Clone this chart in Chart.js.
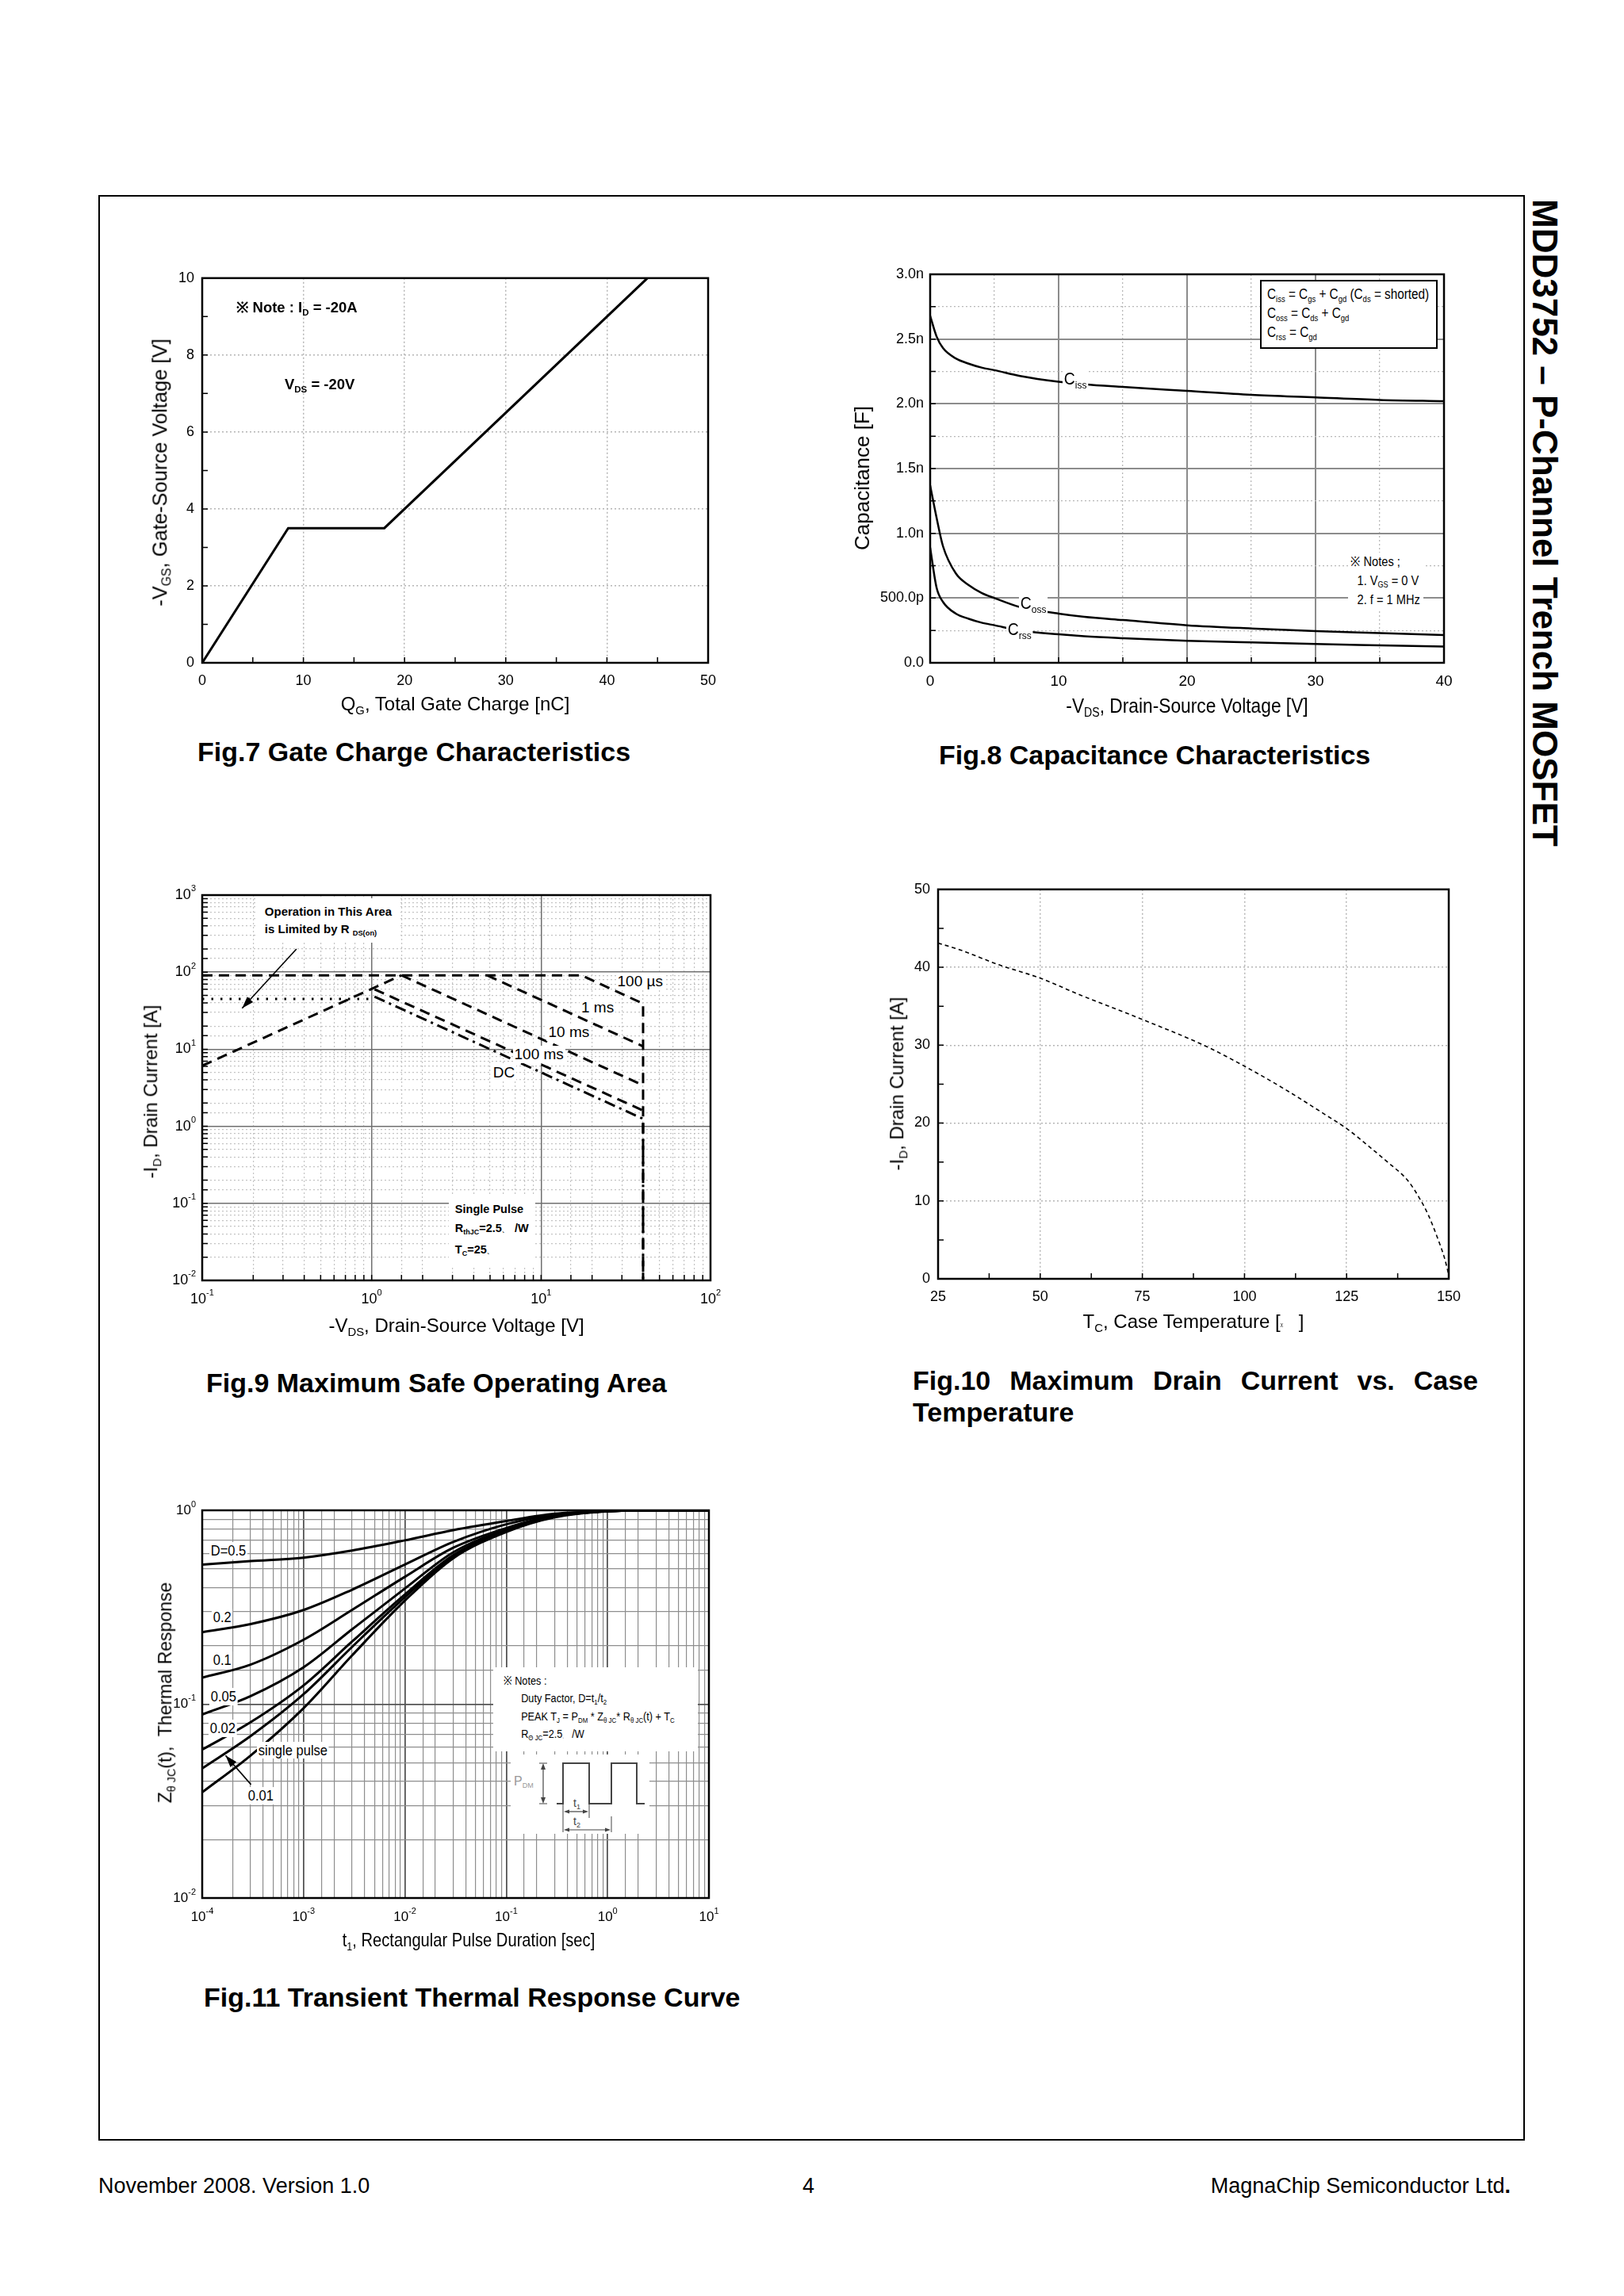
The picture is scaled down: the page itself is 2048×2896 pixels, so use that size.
<!DOCTYPE html>
<html><head><meta charset="utf-8"><title>MDD3752 P-Channel Trench MOSFET</title>
<script src="https://cdn.jsdelivr.net/npm/chart.js@4.4.1/dist/chart.umd.min.js"></script>
<style>
html,body{margin:0;padding:0;background:#fff;}
body{position:relative;width:2048px;height:2896px;overflow:hidden;font-family:'Liberation Sans',Arial,Helvetica,sans-serif;color:#000;}
.abs{position:absolute;white-space:nowrap;line-height:1.15;}
sub{font-size:0.62em;vertical-align:-0.32em;line-height:0;}
.ftitle{font-weight:bold;font-size:34px;}
.atitle{font-size:24px;}
.cond{display:inline-block;transform-origin:0 0;}
</style></head><body>
<div class="abs" style="left:124px;top:246px;width:1799px;height:2454px;border:2px solid #000;box-sizing:border-box;"></div>
<div class="abs" style="left:1926px;top:251px;writing-mode:vertical-rl;font-weight:bold;font-size:44px;line-height:44px;">MDD3752 – P-Channel Trench MOSFET</div>

<div class="abs ftitle" style="left:249px;top:949px;transform:translateY(-50%);">Fig.7 Gate Charge Characteristics</div>
<div class="abs ftitle" style="left:1184px;top:953px;transform:translateY(-50%);">Fig.8 Capacitance Characteristics</div>
<div class="abs ftitle" style="left:260px;top:1745px;transform:translateY(-50%);">Fig.9 Maximum Safe Operating Area</div>
<div class="abs ftitle" style="left:1151px;top:1721px;width:713px;white-space:normal;line-height:40px;">
  <div style="text-align:justify;text-align-last:justify;">Fig.10 Maximum Drain Current vs. Case</div>
  <div>Temperature</div>
</div>
<div class="abs ftitle" style="left:257px;top:2520px;transform:translateY(-50%);">Fig.11 Transient Thermal Response Curve</div>

<div class="abs" style="left:124px;top:2742px;font-size:27px;">November 2008. Version 1.0</div>
<div class="abs" style="left:1012px;top:2742px;font-size:27px;">4</div>
<div class="abs" style="right:143px;top:2742px;font-size:27px;">MagnaChip Semiconductor Ltd<b>.</b></div>

<script>
// ---------------- DATA ----------------
// Fig.7 Gate charge
const gateCharge = [0, 8.5, 18, 44];          // nC
const gateVoltage = [0, 3.5, 3.5, 10];        // V
// Fig.8 Capacitance (nF)
const capVds = [0, 0.5, 1, 2, 3, 4, 5, 7, 10, 12, 15, 20, 25, 30, 35, 40];
const capCiss = [2.68, 2.52, 2.43, 2.35, 2.31, 2.28, 2.26, 2.215, 2.17, 2.15, 2.13, 2.10, 2.07, 2.05, 2.03, 2.02];
const capCoss = [1.37, 1.12, 0.90, 0.69, 0.60, 0.54, 0.50, 0.43, 0.38, 0.355, 0.33, 0.29, 0.265, 0.245, 0.23, 0.215];
const capCrss = [0.89, 0.58, 0.47, 0.38, 0.34, 0.31, 0.29, 0.25, 0.22, 0.205, 0.19, 0.17, 0.157, 0.145, 0.135, 0.125];
const capTickLabels = ['0.0', '500.0p', '1.0n', '1.5n', '2.0n', '2.5n', '3.0n'];
// Fig.9 Safe operating area
const soaLimitV = [0.1, 17.3, 40, 40];   const soaLimitI = [91, 91, 39, 0.01];   // 100 us
const soa1msV = [4.8, 40];                const soa1msI = [91, 10.9];
const soa10msV = [1.5, 40];               const soa10msI = [91, 3.4];
const soa100msV = [1.04, 40];             const soa100msI = [60, 1.6];
const soaDcV = [1.04, 40, 40];            const soaDcI = [48, 1.25, 0.01];
const soaRdsV = [0.1, 1.5];               const soaRdsI = [6.1, 91];
const soaPkgV = [0.1, 1.0];               const soaPkgI = [45, 45];
// Fig.10 Max drain current vs case temperature
const caseTemp = [25, 30, 40, 50, 60, 75, 90, 100, 110, 120, 125, 130, 135, 140, 143, 145, 147, 149, 150];
const maxDrainI = [43.1, 42.3, 40.3, 38.6, 36.4, 33.3, 30.0, 27.3, 24.3, 21.0, 19.3, 17.2, 15.0, 12.6, 10.2, 8.2, 5.6, 2.6, 0.5];
// Fig.11 Transient thermal response
const pulseT = [1e-4, 3e-4, 1e-3, 3e-3, 1e-2, 3e-2, 1e-1, 3e-1, 1, 3, 10];
const zD50 = [0.525, 0.547, 0.57, 0.62, 0.70, 0.79, 0.88, 0.96, 0.99, 1.0, 1.0];
const zD20 = [0.235, 0.259, 0.306, 0.389, 0.525, 0.687, 0.847, 0.95, 0.99, 1.0, 1.0];
const zD10 = [0.137, 0.16, 0.215, 0.306, 0.454, 0.641, 0.81, 0.94, 0.99, 1.0, 1.0];
const zD05 = [0.0885, 0.110, 0.155, 0.243, 0.395, 0.607, 0.796, 0.93, 0.99, 1.0, 1.0];
const zD02 = [0.0583, 0.0807, 0.125, 0.210, 0.368, 0.587, 0.786, 0.93, 0.99, 1.0, 1.0];
const zD01 = [0.0466, 0.0684, 0.1125, 0.197, 0.356, 0.578, 0.779, 0.925, 0.99, 1.0, 1.0];
const zSingle = [0.0351, 0.0543, 0.0953, 0.178, 0.342, 0.566, 0.773, 0.92, 0.988, 1.0, 1.0];

// ---------------- LAYOUT ----------------
const FONT = "'Liberation Sans', Arial, sans-serif";
const G7  = {x:255,  y:350,  w:638, h:486, L:70, T:20, R:40, B:50};
const G8  = {x:1173, y:346,  w:648, h:490, L:90, T:20, R:40, B:50};
const G9  = {x:255,  y:1129, w:641, h:486, L:70, T:25, R:40, B:50};
const G10 = {x:1183, y:1121, w:644, h:492, L:60, T:20, R:40, B:50};
const G11 = {x:255,  y:1905, w:639, h:489, L:60, T:20, R:40, B:50};

const pts = (xs, ys) => xs.map((x, i) => ({x, y: ys[i]}));
const isDecade = v => Math.abs(Math.log10(v) - Math.round(Math.log10(v))) < 1e-6;

function powLabel(ctx, x, yc, e, align, fs, fam) {
  ctx.font = fs + 'px ' + fam; const wb = ctx.measureText('10').width;
  const es = Math.round(fs * 0.62);
  ctx.font = es + 'px ' + fam; const we = ctx.measureText(String(e)).width;
  const tot = wb + we; const x0 = align === 'right' ? x - tot : x - tot / 2;
  ctx.fillStyle = '#000'; ctx.textAlign = 'left'; ctx.textBaseline = 'middle';
  ctx.font = fs + 'px ' + fam; ctx.fillText('10', x0, yc);
  ctx.font = es + 'px ' + fam; ctx.fillText(String(e), x0 + wb, yc - fs * 0.42);
}

const framePlugin = {
  id: 'frame',
  afterDraw(chart, args, o) {
    const ctx = chart.ctx, a = chart.chartArea, sx = chart.scales.x, sy = chart.scales.y;
    ctx.save();
    ctx.strokeStyle = '#000';
    ctx.lineWidth = o.tickWidth || 1.5;
    const len = o.tickLen || 7;
    const xt = o.xTicks === 'scale' ? sx.ticks.map(t => t.value) : (o.xTicks || []);
    const yt = o.yTicks === 'scale' ? sy.ticks.map(t => t.value) : (o.yTicks || []);
    ctx.beginPath();
    xt.forEach(v => { const p = sx.getPixelForValue(v); ctx.moveTo(p, a.bottom); ctx.lineTo(p, a.bottom - len); });
    yt.forEach(v => { const p = sy.getPixelForValue(v); ctx.moveTo(a.left, p); ctx.lineTo(a.left + len, p); });
    ctx.stroke();
    (o.arrows || []).forEach(ar => {
      const x1 = sx.getPixelForValue(ar[0]), y1 = sy.getPixelForValue(ar[1]);
      const x2 = sx.getPixelForValue(ar[2]), y2 = sy.getPixelForValue(ar[3]);
      ctx.lineWidth = 1.6; ctx.beginPath(); ctx.moveTo(x1, y1); ctx.lineTo(x2, y2); ctx.stroke();
      const ang = Math.atan2(y2 - y1, x2 - x1), h = 15, w = 5;
      ctx.beginPath(); ctx.moveTo(x2, y2);
      ctx.lineTo(x2 - h * Math.cos(ang) + w * Math.sin(ang), y2 - h * Math.sin(ang) - w * Math.cos(ang));
      ctx.lineTo(x2 - h * Math.cos(ang) - w * Math.sin(ang), y2 - h * Math.sin(ang) + w * Math.cos(ang));
      ctx.closePath(); ctx.fillStyle = '#000'; ctx.fill();
    });
    const fs = o.logFont || 18, fam = o.family || FONT;
    if (o.logX) sx.ticks.forEach(t => { if (isDecade(t.value)) powLabel(ctx, sx.getPixelForValue(t.value), a.bottom + (o.xPad || 22), Math.round(Math.log10(t.value)), 'center', fs, fam); });
    if (o.logY) sy.ticks.forEach(t => { if (isDecade(t.value)) powLabel(ctx, a.left - (o.yPad || 8), sy.getPixelForValue(t.value), Math.round(Math.log10(t.value)), 'right', fs, fam); });
    ctx.lineWidth = o.width || 2.5;
    ctx.strokeRect(a.left, a.top, a.right - a.left, a.bottom - a.top);
    ctx.restore();
  }
};

function makeChart(g, cfg) {
  const cv = document.createElement('canvas');
  cv.width = g.w + g.L + g.R; cv.height = g.h + g.T + g.B;
  Object.assign(cv.style, {position: 'absolute', left: (g.x - g.L) + 'px', top: (g.y - g.T) + 'px', width: cv.width + 'px', height: cv.height + 'px'});
  document.body.appendChild(cv);
  Object.assign(cfg.options, {responsive: false, animation: false, devicePixelRatio: 1, maintainAspectRatio: false,
    layout: {padding: {top: g.T, right: g.R, left: 0, bottom: 0}}});
  cfg.options.scales.x.afterFit = s => { s.height = g.B; };
  cfg.options.scales.y.afterFit = s => { s.width = g.L; };
  cfg.options.plugins = Object.assign({legend: {display: false}, tooltip: {enabled: false}}, cfg.options.plugins);
  cfg.plugins = [framePlugin];
  const ch = new Chart(cv, cfg);
  ch.$g = g;
  return ch;
}

// text annotation anchored at data coordinates; k = horizontal condense factor
function ann(ch, xv, yv, html, style, ax, ay, k) {
  const g = ch.$g;
  const px = ch.scales.x.getPixelForValue(xv) + g.x - g.L;
  const py = ch.scales.y.getPixelForValue(yv) + g.y - g.T;
  const d = document.createElement('div');
  d.className = 'abs';
  d.innerHTML = html;
  d.style.cssText += style || '';
  d.style.left = px + 'px'; d.style.top = py + 'px';
  const tx = {left: '0', center: '-50%', right: '-100%'}[ax || 'left'];
  const ty = {top: '0', middle: '-50%', bottom: '-100%'}[ay || 'middle'];
  d.style.transformOrigin = {left: '0', center: '50%', right: '100%'}[ax || 'left'] + ' 50%';
  d.style.transform = 'translate(' + tx + ',' + ty + ')' + (k ? ' scaleX(' + k + ')' : '');
  document.body.appendChild(d);
  return d;
}

function axisTitles(ch, xHtml, yHtml, xOff, yOff, style, kx, ky, xShift, yShift, yStyle) {
  const a = ch.chartArea, g = ch.$g;
  const ox = g.x - g.L, oy = g.y - g.T;
  const dx = document.createElement('div');
  dx.className = 'abs atitle'; dx.innerHTML = xHtml; dx.style.cssText += style || '';
  dx.style.left = (ox + (a.left + a.right) / 2 + (xShift || 0)) + 'px'; dx.style.top = (oy + a.bottom + xOff) + 'px';
  dx.style.transform = 'translate(-50%,-50%)' + (kx ? ' scaleX(' + kx + ')' : '');
  document.body.appendChild(dx);
  const dy = document.createElement('div');
  dy.className = 'abs atitle'; dy.innerHTML = yHtml; dy.style.cssText += (style || '') + (yStyle || '');
  dy.style.left = (ox + a.left - yOff) + 'px'; dy.style.top = (oy + (a.top + a.bottom) / 2 + (yShift || 0)) + 'px';
  dy.style.transform = 'translate(-50%,-50%) rotate(-90deg)' + (ky ? ' scaleX(' + ky + ')' : '');
  document.body.appendChild(dy);
}

const lineDs = (data, extra) => Object.assign({data, borderColor: '#000', borderWidth: 3, pointRadius: 0, fill: false, tension: 0}, extra || {});
const dotGrid = {color: '#b5b5b5', lineWidth: 1.5, drawTicks: false};
const tickFont = (fam, size) => ({font: {family: fam, size: size}, color: '#000'});

// ---------------- FIG 7 ----------------
const c7 = makeChart(G7, {
  type: 'line',
  data: {datasets: [lineDs(pts(gateCharge, gateVoltage))]},
  options: {
    scales: {
      x: {type: 'linear', min: 0, max: 50, ticks: Object.assign({stepSize: 10, padding: 12}, tickFont(FONT, 18)), grid: dotGrid, border: {display: false, dash: [2, 3]}},
      y: {type: 'linear', min: 0, max: 10, ticks: Object.assign({stepSize: 2, padding: 10}, tickFont(FONT, 18)), grid: dotGrid, border: {display: false, dash: [2, 3]}}
    },
    plugins: {frame: {xTicks: [5, 10, 15, 20, 25, 30, 35, 40, 45], yTicks: [1, 2, 3, 4, 5, 6, 7, 8, 9], tickLen: 7}}
  }
});
axisTitles(c7, 'Q<sub>G</sub>, Total Gate Charge [nC]', '-V<sub>GS</sub>, Gate-Source Voltage [V]', 52, 53, '', 0, 0, 0, 3, 'font-size:25.5px;');
ann(c7, 3.4, 9.23, '※ Note : I<sub>D</sub> = -20A', 'font-weight:bold;font-size:18.5px;');
ann(c7, 8.15, 7.23, 'V<sub>DS</sub> = -20V', 'font-weight:bold;font-size:18.5px;');

// ---------------- FIG 8 ----------------
const isHalf = v => Math.abs(v / 0.5 - Math.round(v / 0.5)) < 1e-6;
const c8 = makeChart(G8, {
  type: 'line',
  data: {datasets: [
    lineDs(pts(capVds, capCiss), {borderWidth: 2.5, cubicInterpolationMode: 'monotone'}),
    lineDs(pts(capVds, capCoss), {borderWidth: 2.5, cubicInterpolationMode: 'monotone'}),
    lineDs(pts(capVds, capCrss), {borderWidth: 2.5, cubicInterpolationMode: 'monotone'})
  ]},
  options: {
    scales: {
      x: {type: 'linear', min: 0, max: 40,
        ticks: Object.assign({stepSize: 5, padding: 12, autoSkip: false, callback: v => (v % 10 === 0 ? String(v) : '')}, tickFont(FONT, 19)),
        grid: {drawTicks: false, color: c => (c.tick && c.tick.value % 10 === 0 ? '#8c8c8c' : '#b8b8b8'), lineWidth: c => (c.tick && c.tick.value % 10 === 0 ? 2 : 1.3)},
        border: {display: false, dash: c => (c.tick && c.tick.value % 10 === 0 ? [] : [2, 3])}},
      y: {type: 'linear', min: 0, max: 3,
        ticks: Object.assign({stepSize: 0.25, padding: 8, autoSkip: false, callback: v => (isHalf(v) ? capTickLabels[Math.round(v / 0.5)] : '')}, tickFont(FONT, 18)),
        grid: {drawTicks: false, color: c => (c.tick && isHalf(c.tick.value) ? '#8c8c8c' : '#b8b8b8'), lineWidth: c => (c.tick && isHalf(c.tick.value) ? 2 : 1.3)},
        border: {display: false, dash: c => (c.tick && isHalf(c.tick.value) ? [] : [2, 3])}}
    },
    plugins: {frame: {xTicks: 'scale', yTicks: 'scale', tickLen: 7}}
  }
});
axisTitles(c8, '-V<sub>DS</sub>, Drain-Source Voltage [V]', 'Capacitance [F]', 55, 85, 'font-size:26px;', 0.875, 1.0, 0, 12);
ann(c8, 25.7, 2.96, '<div class="cond" style="transform:scaleX(0.85)">C<sub>iss</sub> = C<sub>gs</sub> + C<sub>gd</sub> (C<sub>ds</sub> = shorted)<br>C<sub>oss</sub> = C<sub>ds</sub> + C<sub>gd</sub><br>C<sub>rss</sub> = C<sub>gd</sub></div>',
  'font-size:18px;line-height:24px;background:#fff;border:2px solid #000;width:224px;height:87px;box-sizing:border-box;padding:4px 7px;overflow:hidden;', 'left', 'top');
ann(c8, 32.5, 0.63, '※ Notes ;<br>&nbsp;&nbsp;1. V<sub>GS</sub> = 0 V<br>&nbsp;&nbsp;2. f = 1 MHz',
  'font-size:17px;line-height:24px;background:#fff;padding:0 4px;', 'left', 'middle', 0.86);
ann(c8, 10.3, 2.19, 'C<sub>iss</sub>', 'font-size:22px;background:#fff;padding:0 2px;', 'left', 'middle', 0.88);
ann(c8, 6.9, 0.46, 'C<sub>oss</sub>', 'font-size:22px;background:#fff;padding:0 2px;', 'left', 'middle', 0.88);
ann(c8, 5.9, 0.26, 'C<sub>rss</sub>', 'font-size:22px;background:#fff;padding:0 2px;', 'left', 'middle', 0.88);

// ---------------- FIG 9 ----------------
const logGrid = (maj, min, wMaj, wMin) => ({drawTicks: false, color: c => (c.tick && isDecade(c.tick.value) ? maj : min), lineWidth: c => (c.tick && isDecade(c.tick.value) ? wMaj : wMin)});
const dash = [13, 8];
const c9 = makeChart(G9, {
  type: 'line',
  data: {datasets: [
    lineDs(pts(soaLimitV, soaLimitI), {borderDash: dash}),
    lineDs(pts(soa1msV, soa1msI), {borderDash: dash}),
    lineDs(pts(soa10msV, soa10msI), {borderDash: dash}),
    lineDs(pts(soa100msV, soa100msI), {borderDash: dash}),
    lineDs(pts(soaDcV, soaDcI), {borderDash: [14, 6, 3, 6]}),
    lineDs(pts(soaRdsV, soaRdsI), {borderDash: dash}),
    lineDs(pts(soaPkgV, soaPkgI), {borderDash: [2.5, 9]})
  ]},
  options: {
    scales: {
      x: {type: 'logarithmic', min: 0.1, max: 100, ticks: {display: false, autoSkip: false}, grid: logGrid('#707070', '#c4c4c4', 1.5, 1.2), border: {display: false, dash: c => (c.tick && isDecade(c.tick.value) ? [] : [2, 3])}},
      y: {type: 'logarithmic', min: 0.01, max: 1000, ticks: {display: false, autoSkip: false}, grid: logGrid('#707070', '#c4c4c4', 1.5, 1.2), border: {display: false, dash: c => (c.tick && isDecade(c.tick.value) ? [] : [2, 3])}}
    },
    plugins: {frame: {xTicks: 'scale', yTicks: 'scale', tickLen: 7, logX: true, logY: true, xPad: 24, yPad: 8, logFont: 18,
      arrows: [[0.36, 200, 0.172, 34]]}}
  }
});
axisTitles(c9, '-V<sub>DS</sub>, Drain-Source Voltage [V]', '-I<sub>D</sub>, Drain Current [A]', 57, 65, '', 0, 0, 0, 5);
ann(c9, 0.21, 470, 'Operation in This Area<br>is Limited by R <sub>DS(on)</sub>', 'font-weight:bold;font-size:15px;line-height:22px;background:#fff;padding:6px 10px;');
ann(c9, 2.85, 0.045, 'Single Pulse<br>R<sub>thJC</sub>=2.5<span style="font-size:8px">、</span>&nbsp;&nbsp;/W<br>T<sub>C</sub>=25<span style="font-size:8px">、</span>', 'font-weight:bold;font-size:14.5px;line-height:24px;background:#fff;padding:6px 8px;');
const lab9 = 'font-size:19px;background:#fff;padding:0 2px;';
ann(c9, 27.6, 76, '100 µs', lab9);
ann(c9, 16.9, 35, '1 ms', lab9);
ann(c9, 10.8, 16.6, '10 ms', lab9);
ann(c9, 6.8, 8.6, '100 ms', lab9);
ann(c9, 5.1, 5.0, 'DC', lab9);

// ---------------- FIG 10 ----------------
const c10 = makeChart(G10, {
  type: 'line',
  data: {datasets: [lineDs(pts(caseTemp, maxDrainI), {borderWidth: 1.6, borderDash: [5, 4], cubicInterpolationMode: 'monotone'})]},
  options: {
    scales: {
      x: {type: 'linear', min: 25, max: 150, ticks: Object.assign({stepSize: 25, padding: 12}, tickFont(FONT, 18)), grid: dotGrid, border: {display: false, dash: [2, 3]}},
      y: {type: 'linear', min: 0, max: 50, ticks: Object.assign({stepSize: 10, padding: 10}, tickFont(FONT, 18)), grid: dotGrid, border: {display: false, dash: [2, 3]}}
    },
    plugins: {frame: {xTicks: [37.5, 50, 62.5, 75, 87.5, 100, 112.5, 125, 137.5], yTicks: [5, 10, 15, 20, 25, 30, 35, 40, 45], tickLen: 7}}
  }
});
axisTitles(c10, 'T<sub>C</sub>, Case Temperature [<span style="font-size:9px;vertical-align:middle">ᵪ</span>&nbsp;&nbsp;&nbsp;]', '-I<sub>D</sub>, Drain Current [A]', 54, 52);

// ---------------- FIG 11 ----------------
const curve11 = ys => lineDs(pts(pulseT, ys), {borderWidth: 3, cubicInterpolationMode: 'monotone'});
const c11 = makeChart(G11, {
  type: 'line',
  data: {datasets: [curve11(zD50), curve11(zD20), curve11(zD10), curve11(zD05), curve11(zD02), curve11(zD01), curve11(zSingle)]},
  options: {
    scales: {
      x: {type: 'logarithmic', min: 1e-4, max: 10, ticks: {display: false, autoSkip: false}, grid: logGrid('#555', '#8e8e8e', 1.8, 1.2), border: {display: false}},
      y: {type: 'logarithmic', min: 0.01, max: 1, ticks: {display: false, autoSkip: false}, grid: logGrid('#555', '#8e8e8e', 1.8, 1.2), border: {display: false}}
    },
    plugins: {frame: {logX: true, logY: true, xPad: 24, yPad: 8, logFont: 17,
      arrows: [[3.03e-4, 0.0385, 1.7e-4, 0.0543]]}}
  }
});
axisTitles(c11, 't<sub>1</sub>, Rectangular Pulse Duration [sec]', 'Z<sub>θ JC</sub>(t),&nbsp; Thermal Response', 53, 47, 'font-size:24px;', 0.84, 0.96, 16, -15);
const lab11 = 'font-size:19px;background:#fff;padding:0 2px;';
ann(c11, 1.17e-4, 0.62, 'D=0.5', lab11, 'left', 'middle', 0.87);
ann(c11, 1.24e-4, 0.281, '0.2', lab11, 'left', 'middle', 0.87);
ann(c11, 1.24e-4, 0.169, '0.1', lab11, 'left', 'middle', 0.87);
ann(c11, 1.17e-4, 0.109, '0.05', lab11, 'left', 'middle', 0.87);
ann(c11, 1.15e-4, 0.0752, '0.02', lab11, 'left', 'middle', 0.87);
ann(c11, 3.44e-4, 0.0579, 'single pulse', lab11, 'left', 'middle', 0.87);
ann(c11, 2.73e-4, 0.0337, '0.01', lab11, 'left', 'middle', 0.87);
ann(c11, 0.0745, 0.174, '<div class="cond" style="transform:scaleX(0.82)">※ Notes :<br><span style="padding-left:27px">Duty Factor, D=t<sub>1</sub>/t<sub>2</sub></span><br><span style="padding-left:27px">PEAK T<sub>J</sub> = P<sub>DM</sub> * Z<sub>θ JC</sub>* R<sub>θ JC</sub>(t) + T<sub>C</sub></span><br><span style="padding-left:27px">R<sub>Θ JC</sub>=2.5<span style="font-size:6px">、</span>&nbsp; /W</span></div>',
  'font-size:15.5px;line-height:22.5px;background:#fff;width:258px;height:106px;box-sizing:border-box;padding:6px 13px;overflow:hidden;margin-top:12px;', 'left', 'top');
ann(c11, 0.110, 0.0642,
  '<svg width="175" height="100" viewBox="0 0 175 100" style="display:block">' +
  '<rect x="0" y="0" width="175" height="100" fill="#fff"/>' +
  '<polyline points="58,62 66,62 66,11 99,11 99,62 127,62 127,11 159,11 159,62 169,62" fill="none" stroke="#444" stroke-width="2"/>' +
  '<line x1="41" y1="16" x2="41" y2="58" stroke="#444" stroke-width="1.2"/>' +
  '<polygon points="41,11 38,19 44,19" fill="#444"/><polygon points="41,62 38,54 44,54" fill="#444"/>' +
  '<line x1="36" y1="11" x2="46" y2="11" stroke="#444" stroke-width="1"/><line x1="36" y1="62" x2="46" y2="62" stroke="#444" stroke-width="1"/>' +
  '<text x="4" y="39" font-family="Liberation Sans, Arial" font-size="16" fill="#999">P<tspan font-size="9" dy="3">DM</tspan></text>' +
  '<line x1="66" y1="62" x2="66" y2="98" stroke="#444" stroke-width="1"/>' +
  '<line x1="99" y1="62" x2="99" y2="80" stroke="#444" stroke-width="1"/>' +
  '<line x1="127" y1="78" x2="127" y2="98" stroke="#444" stroke-width="1"/>' +
  '<line x1="70" y1="72" x2="95" y2="72" stroke="#444" stroke-width="1.2"/>' +
  '<polygon points="67,72 74,69.5 74,74.5" fill="#444"/><polygon points="98,72 91,69.5 91,74.5" fill="#444"/>' +
  '<text x="79" y="66" font-family="Liberation Sans, Arial" font-size="14" fill="#444">t<tspan font-size="9" dy="3">1</tspan></text>' +
  '<line x1="70" y1="95" x2="123" y2="95" stroke="#444" stroke-width="1.2"/>' +
  '<polygon points="67,95 74,92.5 74,97.5" fill="#444"/><polygon points="126,95 119,92.5 119,97.5" fill="#444"/>' +
  '<text x="79" y="89" font-family="Liberation Sans, Arial" font-size="14" fill="#444">t<tspan font-size="9" dy="3">2</tspan></text>' +
  '</svg>', 'margin-top:16px;', 'left', 'top');
</script>
</body></html>
